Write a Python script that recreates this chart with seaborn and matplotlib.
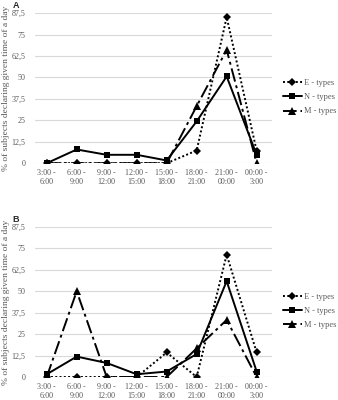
import matplotlib.pyplot as plt
import pandas as pd
import seaborn as sns

slots = ["3:00 -\n6:00", "6:00 -\n9:00", "9:00 -\n12:00", "12:00 -\n15:00",
         "15:00 -\n18:00", "18:00 -\n21:00", "21:00 -\n00:00", "00:00 -\n3:00"]

# panel A
a_e = [0, 0, 0, 0, 0, 7.4, 85.2, 7.2]
a_n = [0, 8.0, 4.9, 4.9, 1.6, 24.4, 50.6, 4.9]
a_m = [0, 0, 0, 0, 0, 33.3, 66.1, 0]

# panel B
b_e = [0, 0, 0, 0, 14.3, 0, 71.4, 14.3]
b_n = [1.6, 11.9, 8.2, 1.6, 3.2, 13.4, 55.9, 3.2]
b_m = [0, 50.0, 0, 0, 0, 16.7, 33.3, 0]

yticks = [0, 12.5, 25, 37.5, 50, 62.5, 75, 87.5]
ytick_labels = ["0", "12,5", "25", "37,5", "50", "62,5", "75", "87,5"]

sns.set_style("white")
plt.rcParams['font.family'] = ['Liberation Serif', 'DejaVu Serif']

gray = "#595959"
styles = {
    "E - types": dict(linestyle=(0, (1, 1.2)), marker="D", markersize=4.5),
    "N - types": dict(linestyle="-", marker="s", markersize=4.5),
    "M - types": dict(linestyle=(0, (7, 2, 1.5, 2)), marker="^", markersize=5.5),
}

fig = plt.figure(figsize=(3.38, 4.0), dpi=100)
ax_a = fig.add_axes([0.1036, 0.592, 0.701, 0.375])
ax_b = fig.add_axes([0.1036, 0.0575, 0.701, 0.375])

for ax, label, series in [(ax_a, "A", (a_e, a_n, a_m)), (ax_b, "B", (b_e, b_n, b_m))]:
    df = pd.DataFrame({"slot": slots * 3,
                       "value": series[0] + series[1] + series[2],
                       "type": ["E - types"] * 8 + ["N - types"] * 8 + ["M - types"] * 8})
    for name, st in styles.items():
        sub = df[df["type"] == name]
        sns.lineplot(x=sub["slot"], y=sub["value"], ax=ax, color="black", lw=1.4,
                     sort=False, label=name, markeredgewidth=0, **st)
    ax.set_ylim(0, 87.5)
    ax.set_xlim(-0.39, 7.51)
    ax.set_yticks(yticks)
    ax.set_yticklabels(ytick_labels)
    ax.grid(axis="y", color="#d9d9d9", lw=0.8)
    ax.set_axisbelow(True)
    for s in ax.spines.values():
        s.set_visible(False)
    ax.tick_params(axis="x", length=0, labelsize=5.8, colors=gray, pad=4)
    ax.tick_params(axis="y", length=0, labelsize=5.8, colors=gray, pad=7)
    ax.set_xlabel("")
    ax.set_ylabel("% of subjects declaring given time of a day", fontsize=6.8, color=gray, labelpad=1)
    leg = ax.legend(loc="center left", bbox_to_anchor=(1.045, 0.44), frameon=False,
                    fontsize=6, handlelength=2.3, handletextpad=0.3, labelspacing=0.75,
                    borderpad=0, borderaxespad=0)
    for t in leg.get_texts():
        t.set_color(gray)
    ax.text(-0.095, 1.05, label, transform=ax.transAxes, fontsize=6.5, fontweight="bold",
            family="Liberation Sans", va="center", ha="left")

plt.savefig("out.png", dpi=100)
